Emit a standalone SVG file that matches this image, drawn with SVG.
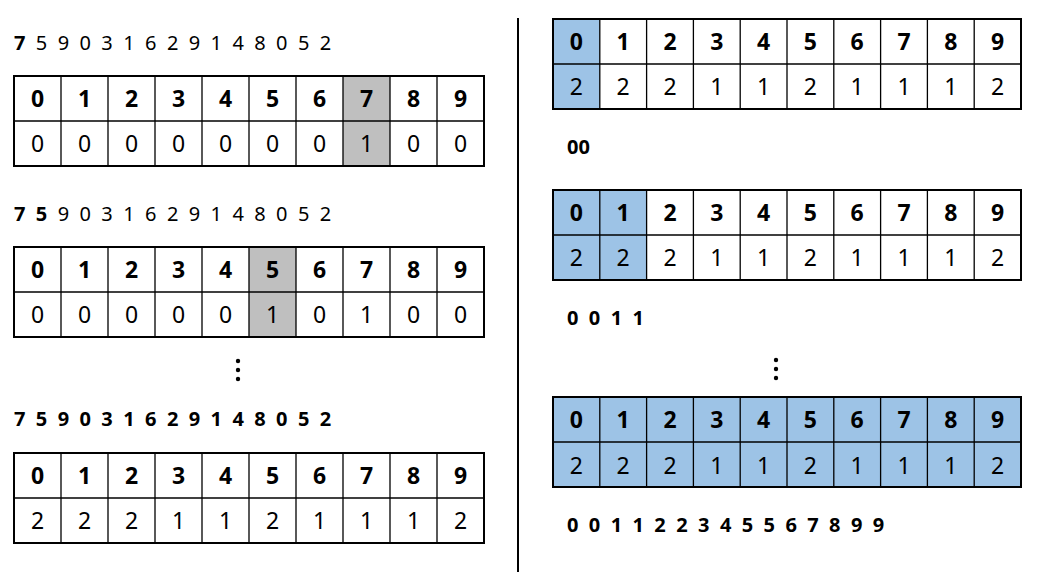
<svg xmlns="http://www.w3.org/2000/svg" width="1048" height="580" viewBox="0 0 1048 580">
<style>
text{font-family:"Noto Sans","Open Sans",sans-serif;font-size:23px;fill:#000}
.h{font-weight:bold;text-anchor:middle}
.v{text-anchor:middle}
.s{font-size:20px;letter-spacing:2.6px}
.b{font-weight:bold}
.g{stroke:#000;stroke-width:2;fill:none}
.c{stroke:#000;stroke-width:1.3;fill:none}
</style>
<defs>
<g id="LH"><text class="h" x="37.5" y="0">0</text><text class="h" x="84.5" y="0">1</text><text class="h" x="131.5" y="0">2</text><text class="h" x="178.5" y="0">3</text><text class="h" x="225.5" y="0">4</text><text class="h" x="272.5" y="0">5</text><text class="h" x="319.5" y="0">6</text><text class="h" x="366.5" y="0">7</text><text class="h" x="413.5" y="0">8</text><text class="h" x="460.5" y="0">9</text></g>
<g id="LG"><rect class="g" x="14" y="0" width="470" height="90"/><line class="c" x1="14" y1="45" x2="484" y2="45"/><path class="c" d="M61 0v90M108 0v90M155 0v90M202 0v90M249 0v90M296 0v90M343 0v90M390 0v90M437 0v90"/></g>
<g id="RH"><text class="h" x="576.4" y="0">0</text><text class="h" x="623.2" y="0">1</text><text class="h" x="670" y="0">2</text><text class="h" x="716.8" y="0">3</text><text class="h" x="763.6" y="0">4</text><text class="h" x="810.4" y="0">5</text><text class="h" x="857.2" y="0">6</text><text class="h" x="904" y="0">7</text><text class="h" x="950.8" y="0">8</text><text class="h" x="997.6" y="0">9</text></g>
<g id="RV"><text class="v" x="576.4" y="0">2</text><text class="v" x="623.2" y="0">2</text><text class="v" x="670" y="0">2</text><text class="v" x="716.8" y="0">1</text><text class="v" x="763.6" y="0">1</text><text class="v" x="810.4" y="0">2</text><text class="v" x="857.2" y="0">1</text><text class="v" x="904" y="0">1</text><text class="v" x="950.8" y="0">1</text><text class="v" x="997.6" y="0">2</text></g>
<g id="RG"><rect class="g" x="553" y="0" width="468" height="90"/><line class="c" x1="553" y1="45" x2="1021" y2="45"/><path class="c" d="M599.8 0v90M646.6 0v90M693.4 0v90M740.2 0v90M787 0v90M833.8 0v90M880.6 0v90M927.4 0v90M974.2 0v90"/></g>
</defs>
<line x1="518" y1="18" x2="518" y2="572" stroke="#000" stroke-width="2"/>

<g id="left1">
<text class="s" x="14" y="50"><tspan class="b">7</tspan> 5 9 0 3 1 6 2 9 1 4 8 0 5 2</text>
<rect x="343" y="76" width="47" height="90" fill="#bfbfbf"/>
<use href="#LG" y="76"/><use href="#LH" y="107"/>
<g transform="translate(0,152)"><text class="v" x="37.5">0</text><text class="v" x="84.5">0</text><text class="v" x="131.5">0</text><text class="v" x="178.5">0</text><text class="v" x="225.5">0</text><text class="v" x="272.5">0</text><text class="v" x="319.5">0</text><text class="v" x="366.5">1</text><text class="v" x="413.5">0</text><text class="v" x="460.5">0</text></g>
</g>
<g id="left2">
<text class="s" x="14" y="221"><tspan class="b">7 5</tspan> 9 0 3 1 6 2 9 1 4 8 0 5 2</text>
<rect x="249" y="247" width="47" height="90" fill="#bfbfbf"/>
<use href="#LG" y="247"/><use href="#LH" y="278"/>
<g transform="translate(0,323)"><text class="v" x="37.5">0</text><text class="v" x="84.5">0</text><text class="v" x="131.5">0</text><text class="v" x="178.5">0</text><text class="v" x="225.5">0</text><text class="v" x="272.5">1</text><text class="v" x="319.5">0</text><text class="v" x="366.5">1</text><text class="v" x="413.5">0</text><text class="v" x="460.5">0</text></g>
</g>
<g id="dotsL"><circle cx="238" cy="361" r="2.2"/><circle cx="238" cy="370" r="2.2"/><circle cx="238" cy="379" r="2.2"/></g>
<g id="left3">
<text class="s b" x="14" y="426">7 5 9 0 3 1 6 2 9 1 4 8 0 5 2</text>
<use href="#LG" y="453"/><use href="#LH" y="484"/>
<g transform="translate(0,529)"><text class="v" x="37.5">2</text><text class="v" x="84.5">2</text><text class="v" x="131.5">2</text><text class="v" x="178.5">1</text><text class="v" x="225.5">1</text><text class="v" x="272.5">2</text><text class="v" x="319.5">1</text><text class="v" x="366.5">1</text><text class="v" x="413.5">1</text><text class="v" x="460.5">2</text></g>
</g>

<g id="right1">
<rect x="553" y="19" width="46.8" height="90" fill="#9dc3e6"/>
<use href="#RG" y="19"/><use href="#RH" y="50"/><use href="#RV" y="95"/>
<text class="s b" x="567" y="154" style="letter-spacing:0">00</text>
</g>
<g id="right2">
<rect x="553" y="190" width="93.6" height="90" fill="#9dc3e6"/>
<use href="#RG" y="190"/><use href="#RH" y="221"/><use href="#RV" y="266"/>
<text class="s b" x="567" y="325">0 0 1 1</text>
</g>
<g id="dotsR"><circle cx="776" cy="360" r="2.2"/><circle cx="776" cy="369" r="2.2"/><circle cx="776" cy="378" r="2.2"/></g>
<g id="right3">
<rect x="553" y="397" width="468" height="91" fill="#9dc3e6"/>
<use href="#RG" y="397"/><use href="#RH" y="428"/><use href="#RV" y="474"/>
<text class="s b" x="567" y="532">0 0 1 1 2 2 3 4 5 5 6 7 8 9 9</text>
</g>
</svg>
